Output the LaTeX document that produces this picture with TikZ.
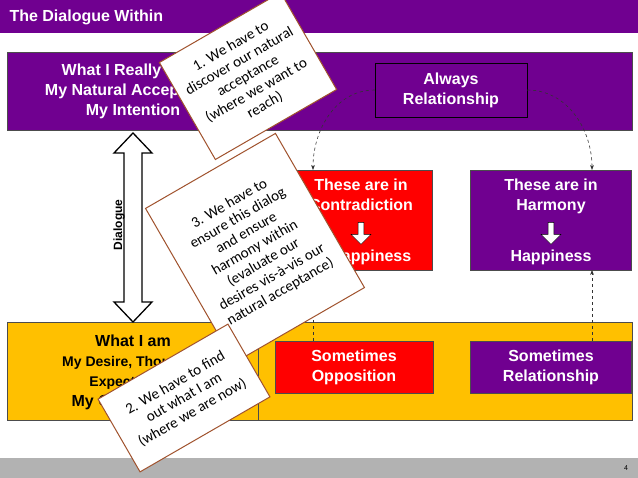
\documentclass[tikz,border=0pt]{standalone}
\usepackage{fontspec}
\setmainfont{Liberation Sans}
\newfontfamily\notefont{Carlito}
\usetikzlibrary{shapes.arrows,arrows.meta}
\definecolor{pur}{RGB}{112,0,144}
\definecolor{org}{RGB}{255,192,0}
\definecolor{rd}{RGB}{255,0,0}
\definecolor{brn}{RGB}{160,82,45}
\tikzset{
 box/.style={draw=black!70,line width=0.5pt},
 btxt/.style={font=\bfseries\fontsize{16}{20}\selectfont,align=center},
 note/.style={draw=brn,line width=1pt,fill=white,font=\notefont\fontsize{15}{17}\selectfont,align=center,inner sep=4pt},
 darr/.style={-{Stealth[length=5pt]},dashed,line width=0.6pt,black!80},
 smallarr/.style={single arrow,draw=black,fill=white,shape border rotate=270,minimum height=22pt,minimum width=20pt,single arrow head extend=3pt,inner sep=1pt}
}
\begin{document}
\begin{tikzpicture}[x=1pt,y=-1pt]
\useasboundingbox (0,0) rectangle (638,478);
\fill[white] (0,0) rectangle (638,478);
% title
\fill[pur] (0,0) rectangle (638,33);
\node[anchor=west,text=white,font=\bfseries\fontsize{16}{18}\selectfont] (title) at (6,17) {The Dialogue Within};
% footer
\fill[black!30] (0,458) rectangle (638,478);
\node[font=\fontsize{7}{8}\selectfont] (pg) at (626,468) {4};
% top box
\draw[box,fill=pur] (7,52) rectangle (632,130);
\draw[black!70] (258,52) -- (258,130);
\node[btxt,text=white] (top) at (133,91) {What I Really Want\\My Natural Acceptance\\My Intention};
\node[box,draw=black,fill=pur,text=white,btxt,minimum width=152pt,minimum height=54pt] (always) at (451,90) {Always\\Relationship};
% bottom box
\draw[box,fill=org] (7,322) rectangle (632,420);
\draw[black!70] (258,322) -- (258,420);
\node[btxt] (bot) at (133,372) {What I am\\{\fontsize{14}{20}\selectfont My Desire, Thoughts,}\\{\fontsize{14}{20}\selectfont Expectations}\\My Competence};
% middle boxes
\node[box,fill=rd,minimum width=142pt,minimum height=100pt] (contra) at (361,220) {};
\node[btxt,text=white,anchor=north] (ct) at (361,175) {These are in\\Contradiction};
\node[smallarr] (ca) at (361,232) {};
\node[btxt,text=white] (ch) at (361,257) {Unhappiness};
\node[box,fill=pur,minimum width=161pt,minimum height=100pt] (harm) at (551,220) {};
\node[btxt,text=white,anchor=north] (ht) at (551,175) {These are in\\Harmony};
\node[smallarr] (ha) at (551,232) {};
\node[btxt,text=white] (hh) at (551,257) {Happiness};
\node[box,fill=rd,text=white,btxt,minimum width=158pt,minimum height=52pt] (sopp) at (354,367) {Sometimes\\Opposition};
\node[box,fill=pur,text=white,btxt,minimum width=161pt,minimum height=52pt] (srel) at (551,367) {Sometimes\\Relationship};
% dashed arrows
\coordinate (c1) at (313,170);
\coordinate (c2) at (592,170);
\coordinate (c3) at (313,270);
\coordinate (c4) at (592,270);
\coordinate (c5) at (313,341);
\coordinate (c6) at (592,341);
\draw[darr] (always.west) to[out=180,in=90] (c1);
\draw[darr] (always.east) to[out=0,in=90] (c2);
\draw[darr] (c5) -- (c3);
\draw[darr] (c6) -- (c4);
% double arrow
\draw[black,line width=1.3pt,fill=white] (133,133) -- (152,153) -- (142,153) -- (142,302) -- (152,302) -- (133,322) -- (114,302) -- (124,302) -- (124,153) -- (114,153) -- cycle;
\node[rotate=90,font=\bfseries\fontsize{12}{14}\selectfont] (dlg) at (119,225) {Dialogue};
% notes
\begin{scope}[y=1pt]
\node[note,rotate=30,minimum width=140pt,minimum height=112pt] (n1) at (248,-76) {1. We have to\\discover our natural\\acceptance\\(where we want to\\reach)};
\node[note,rotate=30,minimum width=150pt,minimum height=178pt] (n3) at (255,-248) {3. We have to\\ensure this dialog\\and ensure\\harmony within\\(evaluate our\\desires vis-à-vis our\\natural acceptance)};
\node[note,rotate=30,minimum width=150pt,minimum height=84pt] (n2) at (184,-398) {2. We have to find\\out what I am\\(where we are now)};
\end{scope}
\end{tikzpicture}
\end{document}
